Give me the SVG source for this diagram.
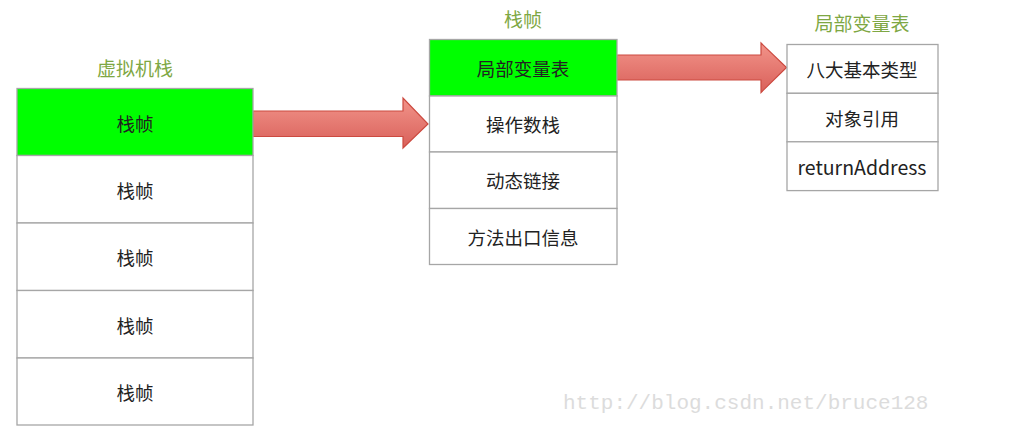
<svg xmlns="http://www.w3.org/2000/svg" width="1028" height="430" viewBox="0 0 1028 430">
<style>
.cell{fill:#ffffff;stroke:#a6a6a6;stroke-width:1.3}
.hot{fill:#00ff00}
.t{font-family:"Noto Sans CJK SC","Liberation Sans",sans-serif;font-size:18.5px;fill:#222;text-anchor:middle;dominant-baseline:central}
.title{font-family:"Noto Sans CJK SC","Liberation Sans",sans-serif;font-size:19px;fill:#7ea743;text-anchor:middle}
.arrow{fill:url(#ag);stroke:#cc4a40;stroke-width:1.2}
.wm{font-family:"Liberation Mono",monospace;font-size:21px;fill:#dcdcdc}
</style>
<defs>
<linearGradient id="ag" x1="0" y1="0" x2="0" y2="1">
<stop offset="0" stop-color="#f2948a"/>
<stop offset="1" stop-color="#d9605a"/>
</linearGradient>
</defs>
<rect width="1028" height="430" fill="#ffffff"/>
<g id="connectors">
<path class="arrow" d="M253 111 H403 V98 L428 124 L403 148 V136.5 H253 Z"/>
<path class="arrow" d="M617 55 H761 V43 L786.5 67.5 L761 92.5 V80 H617 Z"/>
</g>
<g id="jvm-stack">
<text class="title" x="135" y="76">虚拟机栈</text>
<rect class="cell hot" x="17" y="88.5" width="236" height="67"/>
<rect class="cell" x="17" y="155.5" width="236" height="67.5"/>
<rect class="cell" x="17" y="223" width="236" height="67.5"/>
<rect class="cell" x="17" y="290.5" width="236" height="67.5"/>
<rect class="cell" x="17" y="358" width="236" height="67"/>
<text class="t" x="135" y="123">栈帧</text>
<text class="t" x="135" y="190">栈帧</text>
<text class="t" x="135" y="257">栈帧</text>
<text class="t" x="135" y="325">栈帧</text>
<text class="t" x="135" y="392">栈帧</text>
</g>
<g id="stack-frame">
<text class="title" x="523" y="27">栈帧</text>
<rect class="cell hot" x="429.5" y="39.5" width="187.5" height="56.5"/>
<rect class="cell" x="429.5" y="96" width="187.5" height="56"/>
<rect class="cell" x="429.5" y="152" width="187.5" height="56.5"/>
<rect class="cell" x="429.5" y="208.5" width="187.5" height="56"/>
<text class="t" x="523" y="68">局部变量表</text>
<text class="t" x="523" y="124">操作数栈</text>
<text class="t" x="523" y="180">动态链接</text>
<text class="t" x="523" y="237">方法出口信息</text>
</g>
<g id="local-vars">
<text class="title" x="862" y="31">局部变量表</text>
<rect class="cell" x="787" y="44.5" width="151" height="48.8"/>
<rect class="cell" x="787" y="93.3" width="151" height="48.5"/>
<rect class="cell" x="787" y="141.8" width="151" height="48.8"/>
<text class="t" x="862" y="69">八大基本类型</text>
<text class="t" x="862" y="118">对象引用</text>
<text class="t" x="862" y="166" font-family="Liberation Sans, sans-serif" style="font-size:19.5px">returnAddress</text>
</g>
<text class="wm" x="563" y="409">http://blog.csdn.net/bruce128</text>
</svg>
